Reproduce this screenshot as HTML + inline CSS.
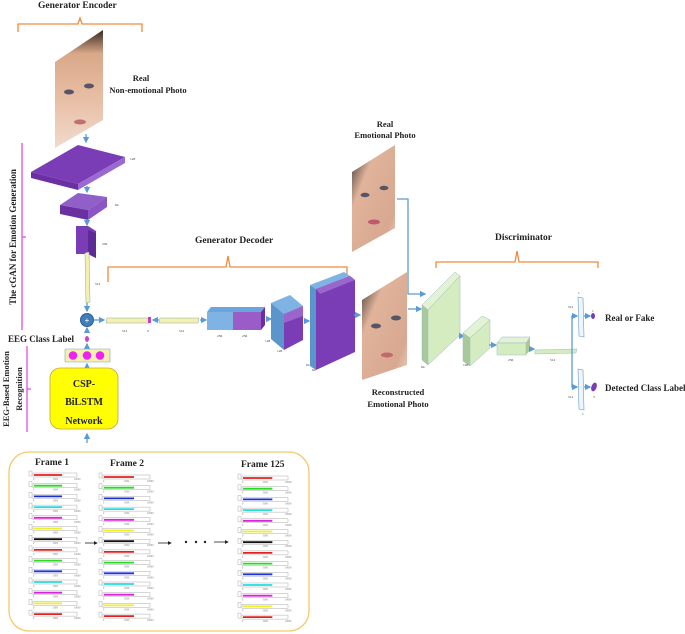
<!DOCTYPE html>
<html><head><meta charset="utf-8"><style>
html,body{margin:0;padding:0;background:#fff;}
svg{display:block;font-family:"Liberation Serif",serif;}
.t{font-weight:bold;font-size:9.5px;fill:#222;}
.s{font-size:3.5px;fill:#333;}
.k{font-size:2.6px;fill:#777;}
.br{fill:none;stroke:#f08a3c;stroke-width:1.3;}
.ar{stroke:#5b9bd5;stroke-width:1.3;fill:none;marker-end:url(#a);}
.pb{fill:#fff;stroke:#999;stroke-width:.4;}
</style></head><body>
<svg width="685" height="634" viewBox="0 0 685 634" xmlns="http://www.w3.org/2000/svg">
<defs>
<marker id="a" markerWidth="5" markerHeight="5" refX="4" refY="2.5" orient="auto"><path d="M0,0L5,2.5L0,5z" fill="#5b9bd5"/></marker>
<marker id="b" markerWidth="5" markerHeight="5" refX="4" refY="2.5" orient="auto"><path d="M0,0L5,2.5L0,5z" fill="#222"/></marker>
<linearGradient id="f1" x1="0" y1="0" x2="0" y2="1"><stop offset="0" stop-color="#3a2a22"/><stop offset=".2" stop-color="#d9a888"/><stop offset=".6" stop-color="#e8bfa6"/><stop offset="1" stop-color="#f1dacd"/></linearGradient>
<linearGradient id="f2" x1="0" y1="0" x2="1" y2="1"><stop offset="0" stop-color="#2a2a2a"/><stop offset=".3" stop-color="#e0b39a"/><stop offset=".8" stop-color="#d8a890"/><stop offset="1" stop-color="#ead0c4"/></linearGradient>
</defs>

<text x="38" y="8" class="t">Generator Encoder</text>
<path class="br" d="M18,32 V24 H78 L80,18 L82,24 H142 V32"/>
<polygon points="55,62 103,30 103,120 55,148" fill="url(#f1)"/>
<ellipse cx="69" cy="92" rx="5" ry="2.5" fill="#556"/><ellipse cx="89" cy="86" rx="5" ry="2.5" fill="#556"/>
<ellipse cx="80" cy="122" rx="6" ry="2.5" fill="#c07070"/>
<text x="141" y="81" class="t" text-anchor="middle" style="font-size:8.5px">Real</text>
<text x="148" y="93" class="t" text-anchor="middle" style="font-size:8.5px">Non-emotional Photo</text>
<line x1="86" y1="134" x2="86" y2="142" class="ar"/>

<line x1="22" y1="143" x2="22" y2="330" stroke="#e040e0" stroke-width="1.2"/>
<line x1="22" y1="237" x2="26" y2="237" stroke="#e040e0" stroke-width="1.2"/>
<text transform="translate(16,237) rotate(-90)" class="t" text-anchor="middle" style="font-size:9px">The cGAN for Emotion Generation</text>

<polygon points="31,172 78,145 125,157 78,184" fill="#7a3db5"/>
<polygon points="31,172 78,184 78,190 31,178" fill="#6a2fa0"/>
<polygon points="78,184 125,157 125,163 78,190" fill="#9a6ad0"/>
<text x="130" y="160" class="s">128</text>
<line x1="87" y1="186" x2="87" y2="192" class="ar"/>
<polygon points="60,205 78,193 107,197 88,210" fill="#9060c8"/>
<polygon points="60,205 88,210 88,220 60,214" fill="#6a2fa0"/>
<polygon points="88,210 107,197 107,207 88,220" fill="#8a55c4"/>
<text x="115" y="206" class="s">64</text>
<line x1="87" y1="219" x2="87" y2="225" class="ar"/>
<polygon points="76,226 88,226 96,231 96,258 88,254 76,254" fill="#7a3db5"/>
<polygon points="88,230 96,233 96,258 88,254" fill="#5e2a96"/>
<text x="102" y="245" class="s">256</text>
<polygon points="85,253 89,252 90,302 86,303" fill="#f5f0b0" stroke="#8aa" stroke-width=".5"/>
<text x="95" y="285" class="s">512</text>
<line x1="87" y1="303" x2="87" y2="311" class="ar"/>
<circle cx="87" cy="320" r="6.5" fill="#3f7dbb" stroke="#2b5f95"/>
<text x="87" y="323" text-anchor="middle" fill="#fff" style="font-size:8px;font-family:'Liberation Sans',sans-serif">+</text>
<line x1="87" y1="333" x2="87" y2="328" class="ar"/>
<text x="8" y="342" class="t" style="font-size:9px">EEG Class Label</text>
<ellipse cx="87" cy="339" rx="2" ry="3" fill="#d040d0"/>
<line x1="87" y1="349" x2="87" y2="344" class="ar"/>
<rect x="65" y="349" width="45" height="13" rx="1" fill="#f5f0b0" stroke="#7aa" stroke-width=".6"/>
<circle cx="73" cy="355.5" r="4.3" fill="#ee22ee"/><circle cx="87" cy="355.5" r="4.3" fill="#ee22ee"/><circle cx="100" cy="355.5" r="4.3" fill="#ee22ee"/>
<line x1="87" y1="369" x2="87" y2="364" class="ar"/>
<rect x="50" y="368" width="68" height="61" rx="10" fill="#ffff00" stroke="#c9a04a" stroke-width=".8"/>
<text x="84" y="387" class="t" text-anchor="middle" style="font-size:10px">CSP-</text>
<text x="84" y="405" class="t" text-anchor="middle" style="font-size:10px">BiLSTM</text>
<text x="84" y="424" class="t" text-anchor="middle" style="font-size:10px">Network</text>
<line x1="27" y1="346" x2="27" y2="432" stroke="#e040e0" stroke-width="1.2"/>
<line x1="27" y1="389" x2="31" y2="389" stroke="#e040e0" stroke-width="1.2"/>
<text transform="translate(9,389) rotate(-90)" class="t" text-anchor="middle" style="font-size:8.5px">EEG-Based Emotion</text>
<text transform="translate(22,389) rotate(-90)" class="t" text-anchor="middle" style="font-size:8.5px">Recognition</text>
<line x1="87" y1="443" x2="87" y2="434" class="ar"/>

<rect x="9" y="452" width="300" height="179" rx="20" fill="none" stroke="#f5c96b" stroke-width="1.3"/>
<text x="35" y="465" class="t">Frame 1</text>
<text x="110" y="466" class="t">Frame 2</text>
<text x="241" y="467" class="t">Frame 125</text>
<g id="rows"></g>
<line x1="85" y1="543" x2="97" y2="543" stroke="#222" stroke-width=".8" marker-end="url(#b)"/>
<line x1="158" y1="543" x2="171" y2="543" stroke="#222" stroke-width=".8" marker-end="url(#b)"/>
<circle cx="186" cy="542" r="1.2" fill="#222"/><circle cx="196" cy="542" r="1.2" fill="#222"/><circle cx="205" cy="542" r="1.2" fill="#222"/>
<line x1="214" y1="542" x2="228" y2="542" stroke="#222" stroke-width=".8" marker-end="url(#b)"/>

<text x="195" y="243" class="t">Generator Decoder</text>
<path class="br" d="M108,282 V267 H226 L228,256 L230,267 H347 V280"/>
<line x1="94" y1="320" x2="104" y2="320" class="ar"/>
<polygon points="107,318 150,318 149,323 106,323" fill="#f5f0b0" stroke="#8aa" stroke-width=".5"/>
<rect x="148" y="317" width="3" height="6" fill="#c040d0"/>
<text x="122" y="332" class="s">512</text><text x="147" y="332" class="s">3</text>
<line x1="159" y1="320" x2="153" y2="320" class="ar"/>
<polygon points="160,318 199,318 198,323 159,323" fill="#f5f0b0" stroke="#8aa" stroke-width=".5"/>
<text x="179" y="332" class="s">512</text>
<line x1="200" y1="320" x2="206" y2="320" class="ar"/>
<polygon points="207,312 211,307 265,307 261,312" fill="#6aa6dd"/>
<rect x="207" y="312" width="26" height="18" fill="#7fb3e3"/>
<rect x="233" y="312" width="28" height="18" fill="#9a5cc6"/>
<polygon points="261,312 265,307 265,325 261,330" fill="#6a2fa0"/>
<text x="217" y="337" class="s">256</text><text x="242" y="337" class="s">256</text>
<line x1="266" y1="319" x2="271" y2="319" class="ar"/>
<polygon points="271,303 290,295 303,306 284,314" fill="#7fb3e3"/>
<polygon points="271,303 284,314 284,350 271,339" fill="#5a95cc"/>
<polygon points="284,314 303,306 303,340 284,350" fill="#7a3db5"/>
<polygon points="284,314 303,306 303,316 284,323" fill="#9a66cc"/>
<text x="265" y="342" class="s">128</text><text x="277" y="352" class="s">128</text>
<line x1="304" y1="321" x2="309" y2="321" class="ar"/>
<polygon points="310,285 344,272 350,276 316,289" fill="#7fb3e3"/>
<polygon points="310,285 316,289 316,370 310,366" fill="#5a95cc"/>
<polygon points="316,289 350,276 355,280 355,352 316,370" fill="#7a3db5"/>
<polygon points="316,289 350,276 355,280 320,294" fill="#9a66cc"/>
<text x="306" y="366" class="s">64</text><text x="312" y="371" class="s">64</text>
<line x1="354" y1="315" x2="360" y2="315" class="ar"/>
<polygon points="362,300 407,272 407,365 362,380" fill="url(#f2)"/>
<ellipse cx="376" cy="326" rx="5" ry="2.5" fill="#556"/><ellipse cx="396" cy="318" rx="5" ry="2.5" fill="#556"/>
<ellipse cx="387" cy="355" rx="6" ry="2.5" fill="#c06a6a"/>
<text x="398" y="395" class="t" text-anchor="middle" style="font-size:8.5px">Reconstructed</text>
<text x="398" y="407" class="t" text-anchor="middle" style="font-size:8.5px">Emotional Photo</text>

<text x="385" y="127" class="t" text-anchor="middle" style="font-size:8.5px">Real</text>
<text x="385" y="138" class="t" text-anchor="middle" style="font-size:8.5px">Emotional Photo</text>
<polygon points="352,172 395,145 395,228 352,252" fill="url(#f2)"/>
<ellipse cx="365" cy="195" rx="4.5" ry="2.2" fill="#556"/><ellipse cx="384" cy="188" rx="4.5" ry="2.2" fill="#556"/>
<ellipse cx="374" cy="222" rx="6" ry="2.5" fill="#c05a6a"/>
<path class="ar" d="M397,199 H408 V294 H425"/>
<line x1="408" y1="309" x2="421" y2="309" class="ar"/>

<text x="495" y="240" class="t">Discriminator</text>
<path class="br" d="M436,268 V262 H515 L517,251 L519,262 H598 V268"/>
<polygon points="422,305 455,272 460,276 428,310" fill="#e2f2d2" stroke="#9bc" stroke-width=".5"/>
<polygon points="422,305 428,310 428,365 422,360" fill="#a9c99a" stroke="#9bc" stroke-width=".5"/>
<polygon points="428,310 460,276 460,335 428,365" fill="#d4ecc0" stroke="#9bc" stroke-width=".5"/>
<text x="421" y="368" class="s">64</text>
<line x1="460" y1="336" x2="464" y2="336" class="ar"/>
<polygon points="463,333 482,316 490,320 470,338" fill="#e2f2d2" stroke="#9bc" stroke-width=".5"/>
<polygon points="463,333 470,338 470,366 463,361" fill="#a9c99a" stroke="#9bc" stroke-width=".5"/>
<polygon points="470,338 490,320 490,348 470,366" fill="#d4ecc0" stroke="#9bc" stroke-width=".5"/>
<text x="463" y="366" class="s">128</text>
<line x1="489" y1="345" x2="496" y2="345" class="ar"/>
<polygon points="497,343 502,337 530,337 526,343" fill="#e2f2d2" stroke="#9bc" stroke-width=".5"/>
<rect x="497" y="343" width="29" height="12" fill="#d4ecc0" stroke="#9bc" stroke-width=".5"/>
<polygon points="526,343 530,337 530,350 526,355" fill="#a9c99a"/>
<text x="508" y="361" class="s">256</text>
<line x1="530" y1="349" x2="534" y2="349" class="ar"/>
<polygon points="535,350 577,349 576,353 535,354" fill="#d4ecc0" stroke="#9bc" stroke-width=".5"/>
<text x="550" y="361" class="s">512</text>
<path class="ar" d="M572,351 V316 H577"/>
<path class="ar" d="M572,351 V387 H577"/>
<polygon points="578,297 583,298 584,337 579,336" fill="#eef4fb" stroke="#6a9acb" stroke-width=".6"/>
<text x="578" y="294" class="s">1</text><text x="568" y="308" class="s">512</text>
<line x1="584" y1="316" x2="590" y2="316" class="ar"/>
<ellipse cx="593" cy="316" rx="2" ry="3" fill="#7a3db5"/>
<text x="592" y="312" class="s">1</text>
<text x="605" y="321" class="t" style="font-size:9px">Real or Fake</text>
<polygon points="578,369 583,370 584,410 579,409" fill="#eef4fb" stroke="#6a9acb" stroke-width=".6"/>
<text x="568" y="398" class="s">512</text><text x="582" y="415" class="s">1</text>
<line x1="584" y1="387" x2="590" y2="387" class="ar"/>
<ellipse cx="594" cy="387" rx="2.6" ry="4.5" fill="#7a3db5" transform="rotate(20 594 387)"/>
<text x="593" y="398" class="s">3</text>
<text x="605" y="391" class="t" style="font-size:9px">Detected Class Label</text>
</svg>
<script>
(function(){
var cols=["#e52020","#22dd22","#1b2fd6","#22dddd","#dd22dd","#f2ee22","#111","#e52020","#22dd22","#2233dd","#22dddd","#dd22dd","#f2ee22","#e52020"];
var fr=[[33,473,44],[103,475,47],[242,476,46]];
var g=document.getElementById("rows"),s="";
fr.forEach(function(f){
 for(var i=0;i<14;i++){
  var x=f[0],y=f[1]+i*10.7,w=f[2];
  s+='<rect class="pb" x="'+(x-4)+'" y="'+(y-2)+'" width="3" height="5"/>';
  s+='<rect class="pb" x="'+x+'" y="'+y+'" width="'+w+'" height="4"/>';
  s+='<line x1="'+(x+1)+'" y1="'+(y+2)+'" x2="'+(x+w*0.66)+'" y2="'+(y+2)+'" stroke="'+cols[i]+'" stroke-width="1.8"/>';
  s+='<text class="k" x="'+x+'" y="'+(y+7)+'">0</text><text class="k" x="'+(x+w*0.45)+'" y="'+(y+7)+'">5000</text><text class="k" x="'+(x+w-3)+'" y="'+(y+7)+'">10000</text>';
 }
});
g.innerHTML=s;
})();
</script>
</body></html>
